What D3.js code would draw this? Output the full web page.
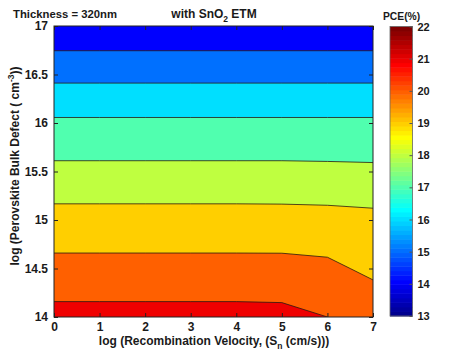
<!DOCTYPE html>
<html><head><meta charset="utf-8">
<script src="https://cdn.jsdelivr.net/npm/d3@7"></script>
<style>
body{margin:0;background:#fff}
text{font-family:Arial,"Liberation Sans",sans-serif;font-weight:bold;fill:#1a1a1a}
</style>
</head><body><svg id="c" width="474" height="355"></svg>
<script>
// ---------------- data ----------------
const xVals = [0, 1, 2, 3, 4, 5, 6, 7];                 // log Sn (cm/s)
const yVals = [14, 14.5, 15, 15.5, 16, 16.5, 17];        // log bulk defect (cm^-3)
// PCE (%) rows follow yVals (14 -> 17), columns follow xVals (0 -> 7)
const pceY140 = [21.33, 21.33, 21.33, 21.33, 21.33, 21.30, 21.00, 20.65];
const pceY145 = [20.29, 20.29, 20.29, 20.29, 20.29, 20.29, 20.20, 19.80];
const pceY150 = [19.38, 19.38, 19.38, 19.38, 19.38, 19.37, 19.34, 19.26];
const pceY155 = [18.24, 18.24, 18.24, 18.24, 18.24, 18.24, 18.22, 18.19];
const pceY160 = [17.16, 17.16, 17.16, 17.16, 17.16, 17.16, 17.16, 17.16];
const pceY165 = [15.75, 15.75, 15.75, 15.75, 15.75, 15.75, 15.75, 15.75];
const pceY170 = [14.22, 14.22, 14.22, 14.22, 14.22, 14.22, 14.22, 14.22];
const pceRows = [pceY140, pceY145, pceY150, pceY155, pceY160, pceY165, pceY170];
const contourLevels = [13, 14, 15, 16, 17, 18, 19, 20, 21];
const xTicks = [0, 1, 2, 3, 4, 5, 6, 7];
const yTicks = [14, 14.5, 15, 15.5, 16, 16.5, 17];
const cbTicks = [13, 14, 15, 16, 17, 18, 19, 20, 21, 22];
const cRange = [13, 22];

// ---------------- layout ----------------
const svg = d3.select("#c");
const L = 54, R = 373, T = 26, B = 317;
const x = d3.scaleLinear().domain([0, 7]).range([L, R]);
const y = d3.scaleLinear().domain([14, 17]).range([B, T]);

// MATLAB jet(64)
function jetRow(r) {
  const u = i => (i < 1 || i > 47) ? 0 : (i <= 16 ? i / 16 : (i <= 31 ? 1 : (48 - i) / 16));
  return [u(r - 24), u(r - 8), u(r + 8)];
}
function jetColor(v) {
  const t = (v - cRange[0]) / (cRange[1] - cRange[0]);
  let r = Math.floor(t * 64) + 1;
  r = Math.max(1, Math.min(64, r));
  const c = jetRow(r);
  return d3.rgb(c[0] * 255, c[1] * 255, c[2] * 255).toString();
}

// padded grid (edge duplicated) for d3.contours
const nx = xVals.length, ny = yVals.length;
const px = nx + 2, py = ny + 2;
const grid = new Array(px * py);
for (let j = 0; j < py; j++) for (let i = 0; i < px; i++) {
  const jj = Math.max(0, Math.min(ny - 1, j - 1));
  const ii = Math.max(0, Math.min(nx - 1, i - 1));
  grid[j * px + i] = pceRows[jj][ii];
}
const sx = xVals[1] - xVals[0], sy = yVals[1] - yVals[0];
const proj = d3.geoTransform({
  point(cx, cy) {
    this.stream.point(x(xVals[0] + (cx - 1.5) * sx), y(yVals[0] + (cy - 1.5) * sy));
  }
});
const path = d3.geoPath(proj);
const contours = d3.contours().size([px, py]).thresholds(contourLevels)(grid);

svg.append("clipPath").attr("id", "clip")
  .append("rect").attr("x", L).attr("y", T).attr("width", R - L).attr("height", B - T);

svg.append("g").attr("clip-path", "url(#clip)")
  .selectAll("path").data(contours).join("path")
  .attr("d", path)
  .attr("fill", d => jetColor(d.value))
  .attr("stroke", "#2a1a10")
  .attr("stroke-width", 0.8)
  .attr("stroke-linejoin", "round");

// axes
const fs = 12;
const gx = svg.append("g").attr("transform", `translate(0,${B})`)
  .call(d3.axisBottom(x).tickValues(xTicks).tickFormat(d3.format("d")).tickSizeInner(-4).tickSizeOuter(0).tickPadding(5));
const gy = svg.append("g").attr("transform", `translate(${L},0)`)
  .call(d3.axisLeft(y).tickValues(yTicks).tickFormat(d => String(d)).tickSizeInner(-4).tickSizeOuter(0).tickPadding(6));
const gt = svg.append("g").attr("transform", `translate(0,${T})`)
  .call(d3.axisTop(x).tickValues(xTicks).tickFormat("").tickSizeInner(-4).tickSizeOuter(0));
const gr = svg.append("g").attr("transform", `translate(${R},0)`)
  .call(d3.axisRight(y).tickValues(yTicks).tickFormat("").tickSizeInner(-4).tickSizeOuter(0));
[gx, gy, gt, gr].forEach(g => {
  g.select(".domain").remove();
  g.selectAll(".tick line").attr("stroke", "#222");
  g.selectAll("text").attr("font-size", fs).attr("font-family", null).attr("fill", "#1a1a1a");
});
svg.append("rect").attr("x", L).attr("y", T).attr("width", R - L).attr("height", B - T)
  .attr("fill", "none").attr("stroke", "#222").attr("stroke-width", 1);

// colorbar
const cbL = 390, cbR = 412.5, cbT = 26.5, cbB = 316;
const cy = d3.scaleLinear().domain(cRange).range([cbB, cbT]);
const nC = 64;
const cbSteps = d3.range(nC);
svg.append("g").selectAll("rect").data(cbSteps).join("rect")
  .attr("x", cbL).attr("width", cbR - cbL)
  .attr("y", i => cy(cRange[0] + (i + 1) * (cRange[1] - cRange[0]) / nC))
  .attr("height", i => cy(cRange[0] + i * (cRange[1] - cRange[0]) / nC) - cy(cRange[0] + (i + 1) * (cRange[1] - cRange[0]) / nC) + 0.5)
  .attr("fill", i => { const c = jetRow(i + 1); return d3.rgb(c[0]*255, c[1]*255, c[2]*255).toString(); });
svg.append("rect").attr("x", cbL).attr("y", cbT).attr("width", cbR - cbL).attr("height", cbB - cbT)
  .attr("fill", "none").attr("stroke", "#666").attr("stroke-width", 0.8);
const gc = svg.append("g").attr("transform", `translate(${cbR},0)`)
  .call(d3.axisRight(cy).tickValues(cbTicks).tickFormat(d3.format("d")).tickSizeInner(-3).tickSizeOuter(0).tickPadding(5));
gc.select(".domain").remove();
gc.selectAll(".tick line").attr("stroke", "#555");
gc.selectAll("text").attr("font-size", 11).attr("font-family", null).attr("fill", "#1a1a1a");

// titles & labels
svg.append("text").attr("x", 13).attr("y", 18).attr("font-size", 11.3).text("Thickness = 320nm");
const t2 = svg.append("text").attr("x", 214).attr("y", 18).attr("font-size", 12).attr("text-anchor", "middle");
t2.append("tspan").text("with SnO");
t2.append("tspan").attr("font-size", 8.5).attr("dy", 4).text("2");
t2.append("tspan").attr("dy", -4).text(" ETM");
svg.append("text").attr("x", 383).attr("y", 20).attr("font-size", 10.3).text("PCE(%)");

const xl = svg.append("text").attr("x", 214).attr("y", 345).attr("font-size", 12).attr("text-anchor", "middle");
xl.append("tspan").text("log (Recombination Velocity, (S");
xl.append("tspan").attr("font-size", 8.5).attr("dy", 4).text("n");
xl.append("tspan").attr("dy", -4).text(" (cm/s)))");

const yl = svg.append("text").attr("transform", "translate(19,166) rotate(-90)").attr("font-size", 12).attr("text-anchor", "middle");
yl.append("tspan").text("log (Perovskite Bulk Defect ( cm");
yl.append("tspan").attr("font-size", 8.5).attr("dy", -5).text("-3");
yl.append("tspan").attr("dy", 5).text("))");
</script>
</body></html>
